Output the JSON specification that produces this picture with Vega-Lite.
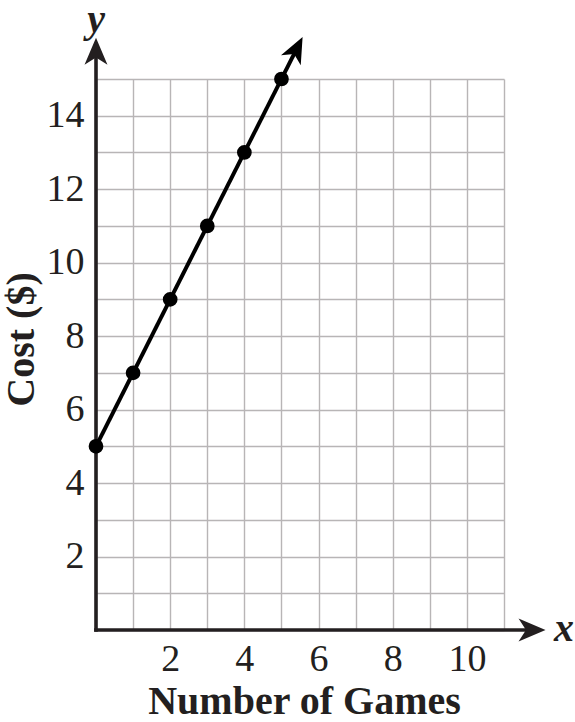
{
  "$schema": "https://vega.github.io/schema/vega-lite/v6.json",
  "autosize": {"type": "none"},
  "padding": {"left": 96, "top": 79, "right": 71, "bottom": 92},
  "width": 408,
  "height": 551,
  "background": "white",
  "config": {
    "view": {"stroke": null},
    "axis": {
      "labelFont": "Liberation Serif",
      "labelFontSize": 38,
      "labelColor": "#231f20",
      "titleFont": "Liberation Serif",
      "titleFontSize": 40,
      "titleFontWeight": "bold",
      "titleColor": "#231f20",
      "gridColor": "#b8b5b6",
      "gridWidth": 1.4,
      "gridOpacity": 1,
      "domain": false,
      "ticks": false
    }
  },
  "datasets": {
    "pts": [
      {"x": 0, "y": 5}, {"x": 1, "y": 7}, {"x": 2, "y": 9},
      {"x": 3, "y": 11}, {"x": 4, "y": 13}, {"x": 5, "y": 15}
    ],
    "axisLines": [
      {"x": -0.05, "y": 0, "x2": 11.8, "y2": 0},
      {"x": 0, "y": -0.05, "x2": 0, "y2": 15.8}
    ],
    "xTip": [{"x": 12.12, "y": 0}],
    "yTip": [{"x": 0, "y": 16.12}],
    "fitLine": [{"x": 0, "y": 5, "x2": 5.4, "y2": 15.8}],
    "lineTip": [{"x": 5.57, "y": 16.14}],
    "varLabels": [
      {"x": 0, "y": 16.6, "t": "y"},
      {"x": 12.62, "y": 0.02, "t": "x"}
    ]
  },
  "encoding": {
    "x": {
      "field": "x", "type": "quantitative",
      "scale": {"domain": [0, 11], "nice": false, "zero": false},
      "axis": {
        "title": "Number of Games",
        "values": [0,1,2,3,4,5,6,7,8,9,10,11],
        "labelExpr": "datum.value % 2 == 0 && datum.value > 0 ? datum.label : ''",
        "labelPadding": 10,
        "titlePadding": 3,
        "titleX": 208
      }
    },
    "y": {
      "field": "y", "type": "quantitative",
      "scale": {"domain": [0, 15], "nice": false, "zero": false},
      "axis": {
        "title": "Cost ($)",
        "values": [0,1,2,3,4,5,6,7,8,9,10,11,12,13,14,15],
        "labelExpr": "datum.value % 2 == 0 && datum.value > 0 ? datum.label : ''",
        "labelPadding": 12,
        "titlePadding": 5,
        "titleY": 260
      }
    }
  },
  "layer": [
    {
      "data": {"name": "axisLines"},
      "mark": {"type": "rule", "color": "#231f20", "strokeWidth": 3.6},
      "encoding": {"x2": {"field": "x2"}, "y2": {"field": "y2"}}
    },
    {
      "data": {"name": "xTip"},
      "mark": {"type": "point", "shape": "M0,0L-2,-0.85L-1.45,0L-2,0.85Z", "filled": true, "color": "#231f20", "opacity": 1, "size": 729, "angle": 0}
    },
    {
      "data": {"name": "yTip"},
      "mark": {"type": "point", "shape": "M0,0L-2,-0.85L-1.45,0L-2,0.85Z", "filled": true, "color": "#231f20", "opacity": 1, "size": 729, "angle": -90}
    },
    {
      "data": {"name": "fitLine"},
      "mark": {"type": "rule", "color": "black", "strokeWidth": 4},
      "encoding": {"x2": {"field": "x2"}, "y2": {"field": "y2"}}
    },
    {
      "data": {"name": "lineTip"},
      "mark": {"type": "point", "shape": "M0,0L-2,-0.85L-1.45,0L-2,0.85Z", "filled": true, "color": "black", "opacity": 1, "size": 676, "angle": -63.2}
    },
    {
      "data": {"name": "pts"},
      "mark": {"type": "point", "shape": "circle", "filled": true, "color": "black", "opacity": 1, "size": 217}
    },
    {
      "data": {"name": "varLabels"},
      "mark": {"type": "text", "font": "Liberation Serif", "fontSize": 40, "fontStyle": "italic", "fontWeight": "bold", "color": "#231f20", "align": "center", "baseline": "middle"},
      "encoding": {"text": {"field": "t"}}
    }
  ]
}
